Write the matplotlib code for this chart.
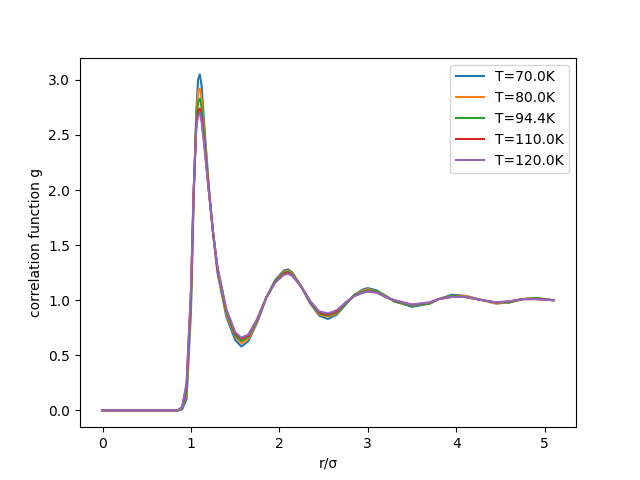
import matplotlib
matplotlib.use("Agg")
import matplotlib.pyplot as plt

r = [0,0.85,0.9,0.95,1.0,1.03,1.06,1.08,1.1,1.12,1.15,1.2,1.25,1.3,1.4,1.5,1.57,1.65,1.75,1.85,1.95,2.05,2.1,2.15,2.25,2.35,2.45,2.55,2.65,2.75,2.85,2.95,3.0,3.1,3.2,3.3,3.5,3.7,3.8,3.95,4.1,4.3,4.45,4.6,4.75,4.9,5.1]
g70 = [0,0,0.01,0.1,0.9,1.9,2.7,3.0,3.05,2.95,2.6,2.05,1.6,1.25,0.85,0.64,0.58,0.63,0.8,1.02,1.18,1.27,1.28,1.25,1.12,0.97,0.86,0.83,0.87,0.96,1.05,1.10,1.11,1.09,1.04,0.99,0.94,0.97,1.01,1.05,1.04,1.0,0.97,0.98,1.01,1.02,1.0]
g80 = [0,0,0.02,0.15,0.97,1.93,2.65,2.9,2.92,2.83,2.53,2.03,1.61,1.27,0.87,0.67,0.61,0.65,0.81,1.02,1.17,1.26,1.27,1.24,1.12,0.98,0.87,0.85,0.88,0.97,1.05,1.09,1.10,1.08,1.04,0.99,0.95,0.97,1.01,1.04,1.04,1.0,0.97,0.98,1.01,1.02,1.0]
g94 = [0,0,0.02,0.18,1.02,1.96,2.62,2.8,2.83,2.75,2.48,2.02,1.61,1.28,0.89,0.68,0.63,0.67,0.82,1.02,1.17,1.25,1.26,1.23,1.12,0.98,0.88,0.86,0.89,0.97,1.05,1.08,1.09,1.08,1.04,0.99,0.95,0.97,1.01,1.04,1.03,1.0,0.98,0.98,1.01,1.02,1.0]
g110 = [0,0,0.03,0.22,1.07,1.98,2.58,2.72,2.74,2.66,2.43,2.01,1.62,1.29,0.91,0.70,0.65,0.68,0.83,1.02,1.16,1.24,1.25,1.22,1.12,0.99,0.89,0.87,0.90,0.98,1.04,1.07,1.08,1.07,1.03,1.0,0.96,0.98,1.01,1.03,1.03,1.0,0.98,0.99,1.01,1.01,1.0]
g120 = [0,0,0.03,0.25,1.1,2.0,2.55,2.68,2.7,2.62,2.4,2.0,1.62,1.3,0.92,0.71,0.66,0.69,0.83,1.02,1.16,1.23,1.24,1.22,1.12,0.99,0.9,0.88,0.91,0.98,1.04,1.07,1.08,1.07,1.03,1.0,0.96,0.98,1.01,1.03,1.03,1.0,0.98,0.99,1.01,1.01,1.0]
labels = ["T=70.0K", "T=80.0K", "T=94.4K", "T=110.0K", "T=120.0K"]

fig, ax = plt.subplots(figsize=(6.4, 4.8), dpi=100)
for g, lab in zip([g70, g80, g94, g110, g120], labels):
    ax.plot(r, g, label=lab)
ax.set_xlabel("r/σ")
ax.set_ylabel("correlation function g")
ax.legend(loc="upper right")
fig.savefig("out.png")
